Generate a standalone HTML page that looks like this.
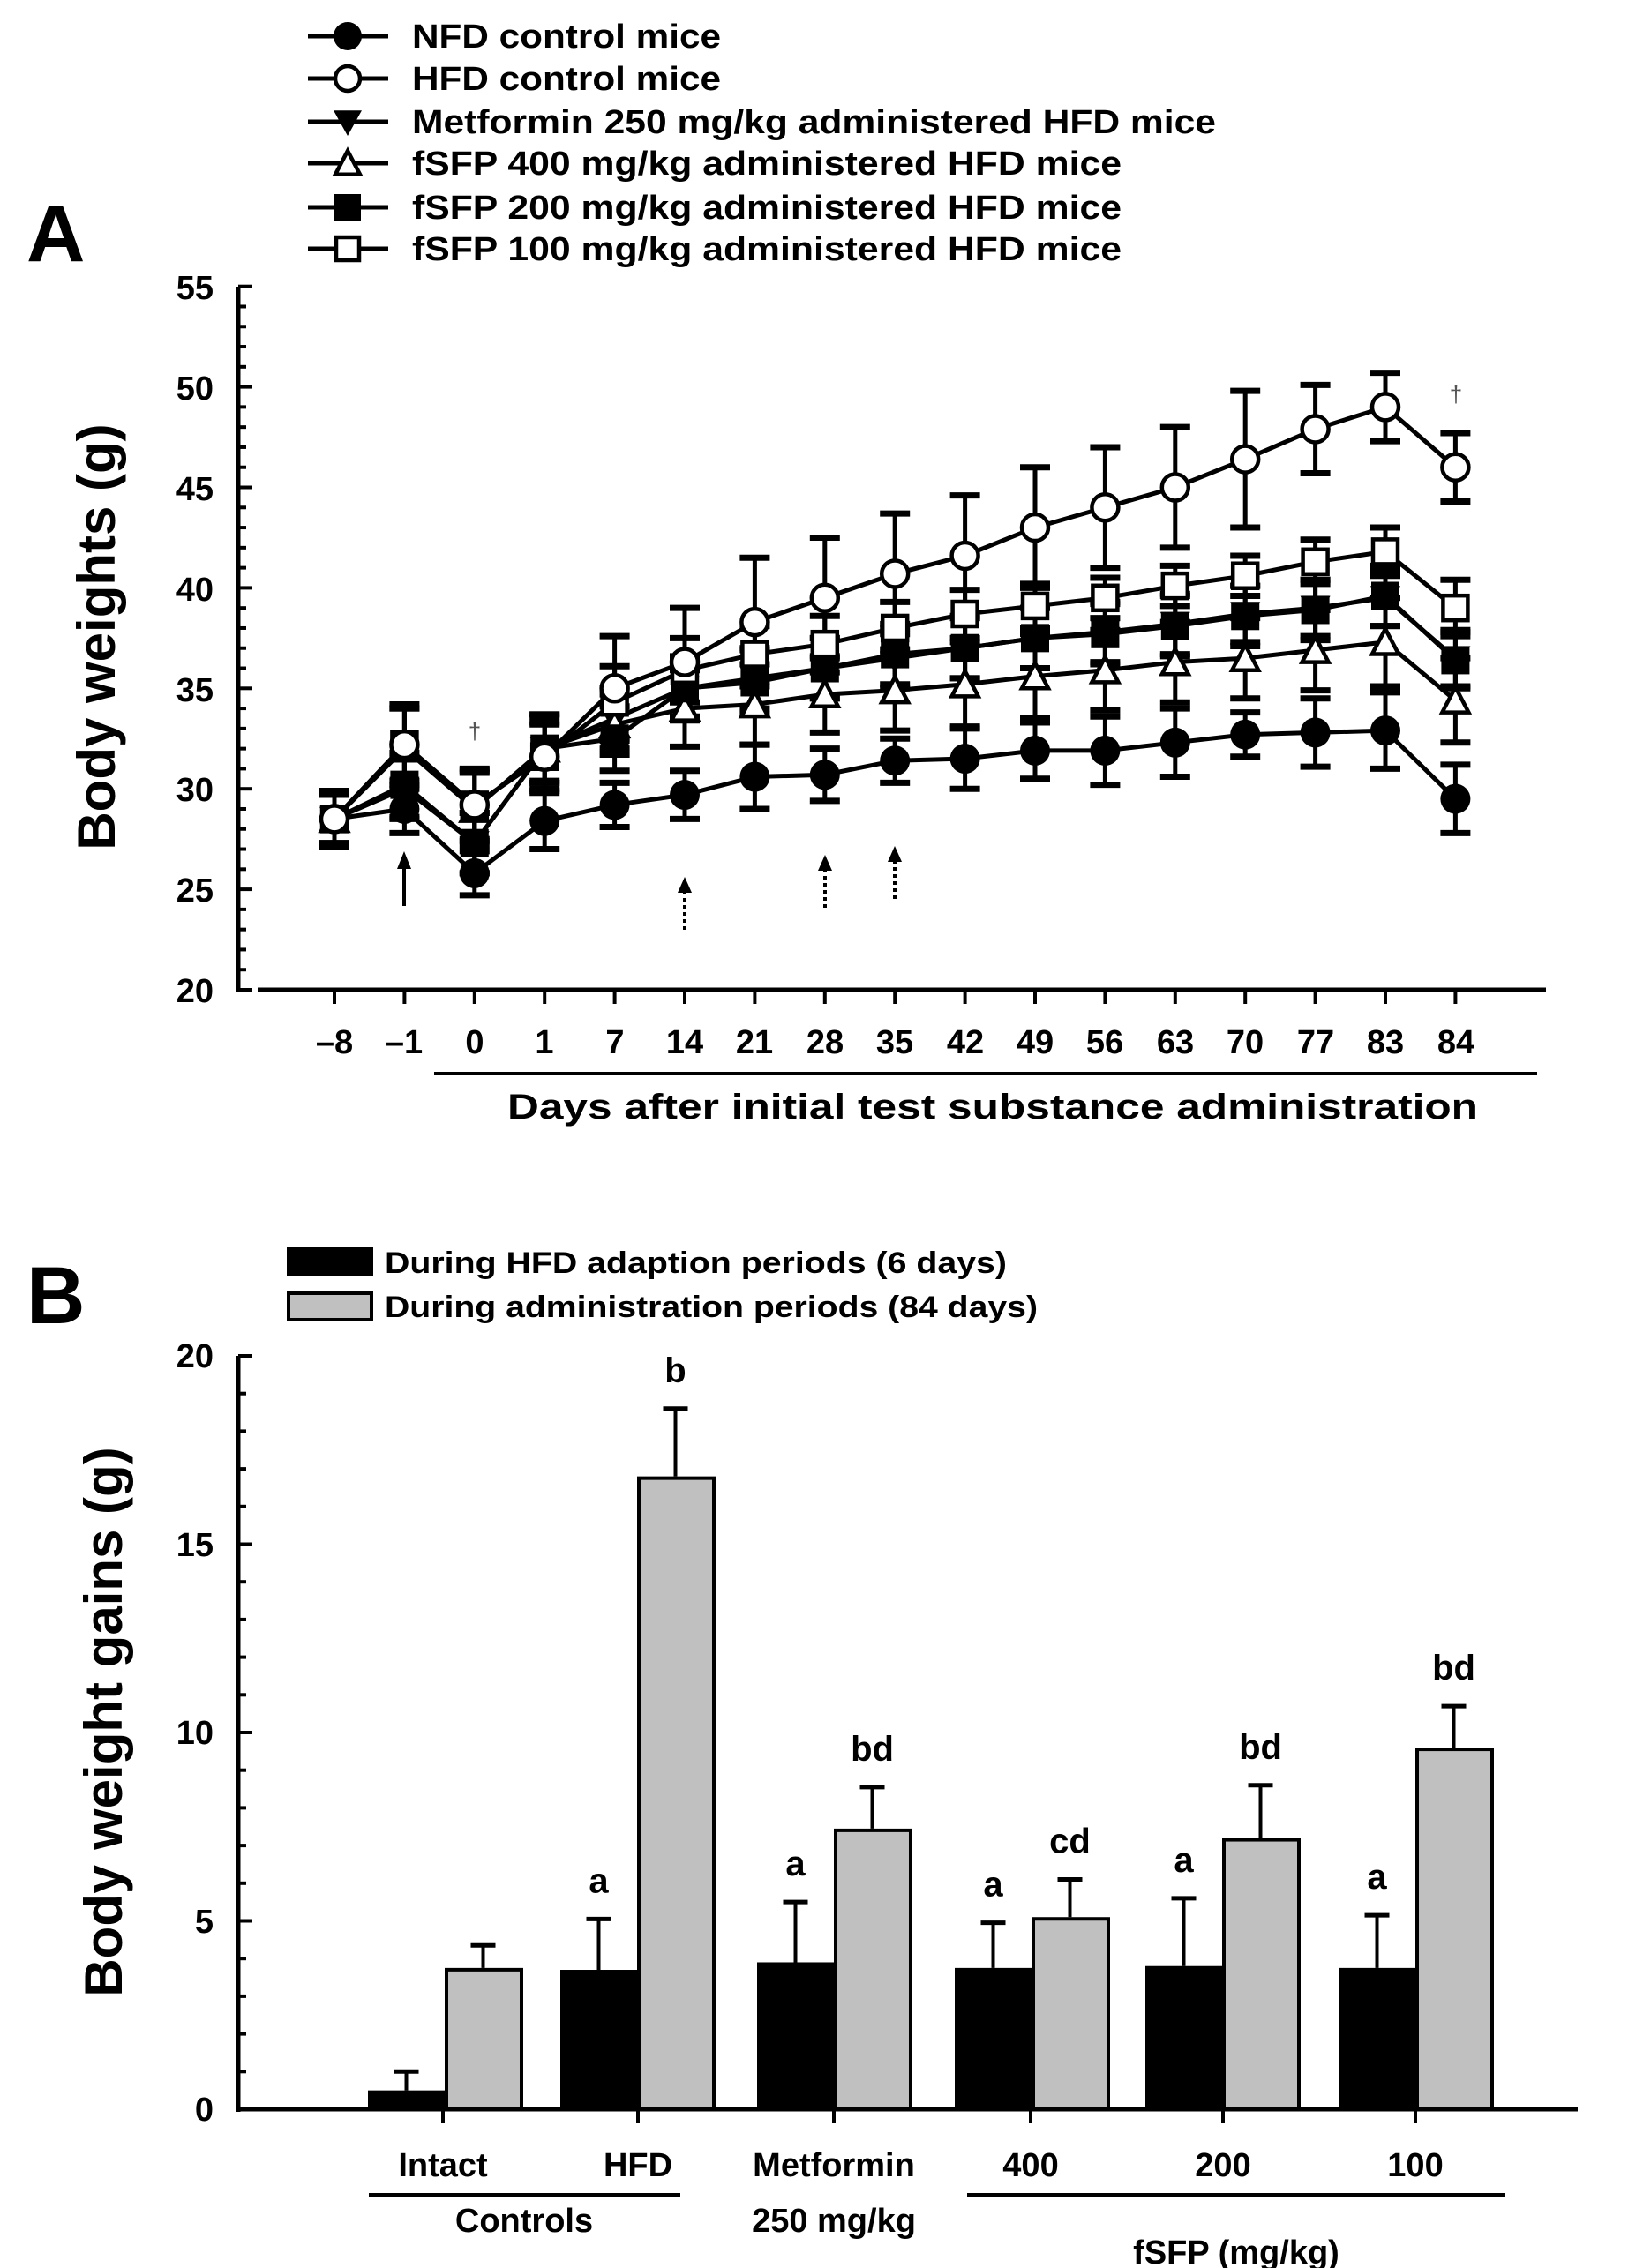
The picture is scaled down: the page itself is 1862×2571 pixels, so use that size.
<!DOCTYPE html>
<html><head><meta charset="utf-8"><style>
html,body{margin:0;padding:0;background:#fff}
svg{display:block}
text{font-family:"Liberation Sans",sans-serif;font-weight:bold;fill:#000}
</style></head><body>
<svg id="s" width="1862" height="2571" viewBox="0 0 1862 2571" xmlns="http://www.w3.org/2000/svg">
<g id="g"></g>
<g font-size="38">
<text x="467" y="54" textLength="350" lengthAdjust="spacingAndGlyphs">NFD control mice</text>
<text x="467" y="102" textLength="350" lengthAdjust="spacingAndGlyphs">HFD control mice</text>
<text x="467" y="151" textLength="911" lengthAdjust="spacingAndGlyphs">Metformin 250 mg/kg administered HFD mice</text>
<text x="467" y="198" textLength="804" lengthAdjust="spacingAndGlyphs">fSFP 400 mg/kg administered HFD mice</text>
<text x="467" y="248" textLength="804" lengthAdjust="spacingAndGlyphs">fSFP 200 mg/kg administered HFD mice</text>
<text x="467" y="295" textLength="804" lengthAdjust="spacingAndGlyphs">fSFP 100 mg/kg administered HFD mice</text>
</g>
<text x="30" y="296" font-size="92">A</text>
<text x="30" y="1500" font-size="92">B</text>
<g font-size="38" text-anchor="end">
<text x="242" y="1136">20</text><text x="242" y="1022">25</text><text x="242" y="908">30</text>
<text x="242" y="795">35</text><text x="242" y="681">40</text><text x="242" y="567">45</text>
<text x="242" y="453">50</text><text x="242" y="339">55</text>
</g>
<text transform="translate(130,722) rotate(-90)" font-size="60" text-anchor="middle">Body weights (g)</text>
<g font-size="38" text-anchor="middle">
<text x="379" y="1194">–8</text><text x="458" y="1194">–1</text><text x="538" y="1194">0</text>
<text x="617" y="1194">1</text><text x="697" y="1194">7</text><text x="776" y="1194">14</text>
<text x="855" y="1194">21</text><text x="935" y="1194">28</text><text x="1014" y="1194">35</text>
<text x="1094" y="1194">42</text><text x="1173" y="1194">49</text><text x="1252" y="1194">56</text>
<text x="1332" y="1194">63</text><text x="1411" y="1194">70</text><text x="1491" y="1194">77</text>
<text x="1570" y="1194">83</text><text x="1650" y="1194">84</text>
</g>
<text x="1125" y="1268" font-size="40" text-anchor="middle" textLength="1100" lengthAdjust="spacingAndGlyphs">Days after initial test substance administration</text>
<text x="538" y="838" font-size="26" text-anchor="middle" style="fill:#555;font-weight:normal">†</text>
<text x="1650" y="456" font-size="26" text-anchor="middle" style="fill:#555;font-weight:normal">†</text>
<g font-size="34">
<text x="436" y="1443" textLength="705" lengthAdjust="spacingAndGlyphs">During HFD adaption periods (6 days)</text>
<text x="436" y="1493" textLength="740" lengthAdjust="spacingAndGlyphs">During administration periods (84 days)</text>
</g>
<g font-size="38" text-anchor="end">
<text x="242" y="2404">0</text><text x="242" y="2191">5</text><text x="242" y="1977">10</text>
<text x="242" y="1764">15</text><text x="242" y="1550">20</text>
</g>
<text transform="translate(138,1952) rotate(-90)" font-size="60" text-anchor="middle">Body weight gains (g)</text>
<g font-size="38" text-anchor="middle">
<text x="502" y="2467">Intact</text><text x="723" y="2467">HFD</text><text x="945" y="2467">Metformin</text>
<text x="1168" y="2467">400</text><text x="1386" y="2467">200</text><text x="1604" y="2467">100</text>
<text x="594" y="2530">Controls</text><text x="945" y="2530">250 mg/kg</text><text x="1401" y="2566">fSFP (mg/kg)</text>
</g>
<g font-size="40" text-anchor="middle" id="lett"></g>
</svg>
<script>
var NS="http://www.w3.org/2000/svg",g=document.getElementById("g");
function el(t,a){var e=document.createElementNS(NS,t);for(var k in a)e.setAttribute(k,a[k]);g.appendChild(e);return e;}
function ln(x1,y1,x2,y2,w,d){var o={x1:x1,y1:y1,x2:x2,y2:y2,stroke:"#000","stroke-width":w||4};if(d)o["stroke-dasharray"]=d;return el("line",o);}
function marker(type,x,y,r){
 r=r||17;
 if(type=="fc")el("circle",{cx:x,cy:y,r:r,fill:"#000"});
 if(type=="oc")el("circle",{cx:x,cy:y,r:r-2,fill:"#fff",stroke:"#000","stroke-width":4.5});
 if(type=="ft")el("polygon",{points:(x-r)+","+(y-r*0.8)+" "+(x+r)+","+(y-r*0.8)+" "+x+","+(y+r),fill:"#000"});
 if(type=="ot")el("polygon",{points:(x-r+2)+","+(y+r*0.8)+" "+(x+r-2)+","+(y+r*0.8)+" "+x+","+(y-r+2),fill:"#fff",stroke:"#000","stroke-width":4.5});
 if(type=="fs")el("rect",{x:x-r+1,y:y-r+1,width:2*r-2,height:2*r-2,fill:"#000"});
 if(type=="os")el("rect",{x:x-r+3,y:y-r+3,width:2*r-6,height:2*r-6,fill:"#fff",stroke:"#000","stroke-width":4.5});
}
var lt=["fc","oc","ft","ot","fs","os"],ly=[41,89,138,185,235,282];
for(var i=0;i<6;i++){ln(349,ly[i],440,ly[i],5);marker(lt[i],394,ly[i],16);}
ln(270,325,270,1125,5);ln(292,1122,1752,1122,5);
for(var v=20;v<=55;v++){var y=1122-(v-20)*22.78;ln(270,y,(v%5==0)?286:279,y,4);}
var X=[];for(var i=0;i<17;i++){X.push(379+i*79.4);ln(379+i*79.4,1122,379+i*79.4,1138,4);}
ln(492,1217,1742,1217,4);
function Y(v){return 1122-(v-20)*22.78;}
var D=[
["fc",[28.5,29,25.8,28.4,29.2,29.7,30.6,30.7,31.4,31.5,31.9,31.9,32.3,32.7,32.8,32.9,29.5],[1.2,1.2,1.1,1.4,1.1,1.2,1.6,1.3,1.1,1.5,1.4,1.7,1.7,1.1,1.7,1.9,1.7]],
["ft",[28.5,30,27.3,32,33.5,35,35.5,36,36.5,37,37.5,37.8,38.2,38.7,39,39.5,36.5],[1.2,1.5,1.5,1.7,1.5,1.5,1.5,1.5,1.5,1.5,1.5,1.5,1.5,1.4,1.4,1.4,1.4]],
["ot",[28.5,32,29,32,33.2,34,34.2,34.7,34.9,35.2,35.6,35.9,36.3,36.5,36.9,37.3,34.4],[1.3,2,1.8,1.7,1.5,1.9,2,1.9,2,2.1,2.1,2,2,2,2,2.2,2.1]],
["fs",[28.5,30.2,27.3,32,32.5,35,35.3,36,36.7,37,37.5,37.7,38.1,38.6,38.9,39.6,36.4],[1.4,1.6,1.5,1.6,1.6,1.6,1.6,1.5,1.5,1.5,1.5,1.5,1.5,1.5,1.5,1.5,1.4]],
["os",[28.5,32.2,29.2,31.6,34.3,35.9,36.7,37.2,38,38.7,39.1,39.5,40.1,40.6,41.3,41.8,39],[1.3,1.8,1.7,1.6,1.8,1.6,1.4,1.4,1.3,1.2,1.1,1,1,1,1.1,1.2,1.4]],
["oc",[28.5,32.2,29.2,31.6,35,36.3,38.3,39.5,40.7,41.6,43,44,45,46.4,47.9,49,46],[1.2,2,1.8,1.7,2.6,2.7,3.2,3,3,3,3,3,3,3.4,2.2,1.7,1.7]]];
D.forEach(function(s){
 var p=s[1].map(function(v,i){return X[i]+","+Y(v)}).join(" ");
 el("polyline",{points:p,fill:"none",stroke:"#000","stroke-width":5});
 s[1].forEach(function(v,i){var e=s[2][i],x=X[i];
  ln(x,Y(v-e),x,Y(v+e),5);ln(x-17,Y(v+e),x+17,Y(v+e),7);ln(x-17,Y(v-e),x+17,Y(v-e),7);});
});
D.forEach(function(s){s[1].forEach(function(v,i){marker(s[0],X[i],Y(v),17);});});
ln(458,1027,458,980,4);el("polygon",{points:"450,985 466,985 458,965",fill:"#000"});
[776,935,1014].forEach(function(x,k){var t=[1010,985,975][k];ln(x,t,x,t+45,4,"4,4");el("polygon",{points:(x-8)+","+(t+2)+" "+(x+8)+","+(t+2)+" "+x+","+(t-16),fill:"#000"});});
ln(270,1537,270,2394,5);ln(267,2391,1788,2391,5);
for(var v=0;v<=20;v++){var y=2391-v*42.7;ln(270,y,(v%5==0)?286:279,y,4);}
[502,723,945,1168,1386,1604].forEach(function(x){ln(x,2391,x,2407,4);});
ln(418,2488,771,2488,4);ln(1096,2488,1706,2488,4);
function YB(v){return 2391-v*42.7;}
var B=[[417,0.5,0.5,3.75,0.6,"",""],[635,3.7,1.35,16.8,1.8,"a","b"],[858,3.9,1.6,7.45,1.1,"a","bd"],[1082,3.75,1.2,5.1,1.0,"a","cd"],[1298,3.8,1.8,7.2,1.4,"a","bd"],[1517,3.75,1.4,9.6,1.1,"a","bd"]];
var L=document.getElementById("lett");
B.forEach(function(b){var x=b[0],w=87;
 ln(x+w/2,YB(b[1]),x+w/2,YB(b[1]+b[2]),4);ln(x+w/2-14,YB(b[1]+b[2]),x+w/2+14,YB(b[1]+b[2]),5);
 ln(x+w*1.5,YB(b[3]),x+w*1.5,YB(b[3]+b[4]),4);ln(x+w*1.5-14,YB(b[3]+b[4]),x+w*1.5+14,YB(b[3]+b[4]),5);
 el("rect",{x:x,y:YB(b[1]),width:w,height:b[1]*42.7,fill:"#000"});
 el("rect",{x:x+w+2,y:YB(b[3])+2,width:w-2,height:b[3]*42.7-2,fill:"#c0c0c0",stroke:"#000","stroke-width":4});
 [[b[5],x+w/2,b[1]+b[2]],[b[6],x+w*1.5,b[3]+b[4]]].forEach(function(q){if(!q[0])return;
  var t=document.createElementNS(NS,"text");t.setAttribute("x",q[1]);t.setAttribute("y",YB(q[2])-30);t.textContent=q[0];L.appendChild(t);});
});
el("rect",{x:325,y:1414,width:98,height:33,fill:"#000"});
el("rect",{x:327,y:1466,width:94,height:30,fill:"#c0c0c0",stroke:"#000","stroke-width":4});
</script>
</body></html>
